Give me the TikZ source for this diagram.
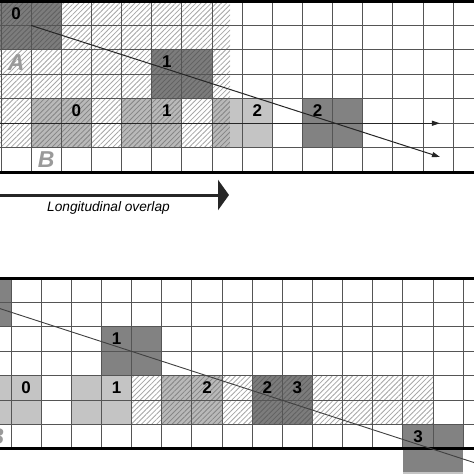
\documentclass[tikz,border=0pt]{standalone}
\usepackage{fontspec}
\setmainfont{Liberation Sans}
\usetikzlibrary{arrows.meta,patterns.meta}
\definecolor{gridc}{HTML}{555555}
\definecolor{lgray}{HTML}{C4C4C4}
\definecolor{mgray}{HTML}{B9B9B9}
\definecolor{dgray}{HTML}{828282}
\definecolor{dhgray}{HTML}{7C7C7C}
\definecolor{lettc}{HTML}{9A9A9A}
\tikzset{
 lighthatch/.style={pattern={Lines[angle=45,distance=3.6pt,line width=0.8pt]},pattern color=black!35},
 medhatch/.style={pattern={Lines[angle=45,distance=3.6pt,line width=0.8pt]},pattern color=black!48},
 darkhatch/.style={pattern={Lines[angle=45,distance=3.6pt,line width=0.8pt]},pattern color=black!62},
 gridline/.style={draw=gridc,line width=1pt},
 frame/.style={draw=black,line width=3pt},
 num/.style={font=\fontsize{17}{17}\selectfont\bfseries,inner sep=0pt},
 panlabel/.style={font=\fontsize{23}{23}\selectfont\bfseries\itshape,text=lettc,inner sep=0pt},
 track/.style={draw=black!85,line width=1pt,-{Triangle[length=8pt,width=5pt]}},
 thinline/.style={draw=black!75,line width=0.9pt},
 bigarrow/.style={draw=black!85,line width=3pt,-{Triangle[length=11pt,width=30pt]}},
}
\begin{document}
\begin{tikzpicture}[x=1pt,y=-1pt]
\useasboundingbox (0,0) rectangle (474,474);
\fill[white] (0,0) rectangle (474,474);
% ---------------- top panel ----------------
\begin{scope}[x=30.15pt,y=-24.45pt,shift={(1pt,-1pt)}]
 \path[lighthatch] (-0.1,0) rectangle (7.6,6);
 \fill[dhgray] (-0.1,0) rectangle (2,2);
 \path[darkhatch] (-0.1,0) rectangle (2,2);
 \fill[dhgray] (5,2) rectangle (7,4);
 \path[darkhatch] (5,2) rectangle (7,4);
 \fill[mgray] (1,4) rectangle (3,6);
 \path[medhatch] (1,4) rectangle (3,6);
 \fill[mgray] (4,4) rectangle (6,6);
 \path[medhatch] (4,4) rectangle (6,6);
 \fill[mgray] (7,4) rectangle (7.6,6);
 \path[medhatch] (7,4) rectangle (7.6,6);
 \fill[lgray] (7.6,4) rectangle (9,6);
 \fill[dgray] (10,4) rectangle (12,6);
 \foreach \c in {0,...,16} \draw[gridline] (\c,0) -- (\c,7);
 \foreach \r in {1,...,6} \draw[gridline] (-0.1,\r) -- (16,\r);
 \draw[frame] (-0.1,0) -- (16,0);
 \draw[frame] (-0.1,7) -- (16,7);
 \coordinate (a0) at (1,1);
 \coordinate (a1) at (14.56,6.38);
 \coordinate (h0) at (-0.1,5);
 \coordinate (h1) at (14.56,5);
 \draw[track] (h0) -- (h1);
 \draw[track] (a0) -- (a1);
 \node[num] (t0) at (0.5,0.5) {0};
 \node[num] (t1) at (5.5,2.5) {1};
 \node[num] (b0) at (2.5,4.5) {0};
 \node[num] (b1) at (5.5,4.5) {1};
 \node[num] (b2) at (8.5,4.5) {2};
 \node[num] (b3) at (10.5,4.5) {2};
 \node[panlabel] (labA) at (0.5,2.5) {A};
 \node[panlabel] (labB) at (1.5,6.5) {B};
\end{scope}
% ---------------- longitudinal overlap ----------------
\coordinate (L0) at (-2,195);
\coordinate (L1) at (229,195);
\draw[bigarrow] (L0) -- (L1);
\node[font=\fontsize{13.7}{14}\selectfont\itshape,anchor=base,inner sep=0pt] (lo) at (108.5,211) {Longitudinal overlap};
% ---------------- bottom panel ----------------
\begin{scope}[x=30.15pt,y=-24.4pt,shift={(11pt,-278pt)}]
 \path[lighthatch] (4,4) rectangle (14,6);
 \fill[mgray] (5,4) rectangle (7,6);
 \path[medhatch] (5,4) rectangle (7,6);
 \fill[dhgray] (8,4) rectangle (10,6);
 \path[darkhatch] (8,4) rectangle (10,6);
 \fill[lgray] (-1,4) rectangle (1,6);
 \fill[lgray] (2,4) rectangle (4,6);
 \fill[dgray] (-1,0) rectangle (0,2);
 \fill[dgray] (3,2) rectangle (5,4);
 \fill[dgray] (13,6) rectangle (15,7.95);
 \fill[lgray] (13,7.95) rectangle (15,8.3);
 \foreach \c in {-1,...,16} \draw[gridline] (\c,0) -- (\c,7);
 \foreach \r in {1,...,6} \draw[gridline] (-1,\r) -- (16,\r);
 \draw[frame] (-1,0) -- (16,0);
 \draw[frame] (-1,7) -- (16,7);
 \coordinate (c0) at (-1,1);
 \coordinate (c1) at (16.22,7.91);
 \draw[thinline] (c0) -- (c1);
 \node[num] (d0) at (0.5,4.5) {0};
 \node[num] (d1) at (3.5,4.5) {1};
 \node[num] (e1) at (3.5,2.5) {1};
 \node[num] (d2) at (6.5,4.5) {2};
 \node[num] (d3) at (8.5,4.5) {2};
 \node[num] (d4) at (9.5,4.5) {3};
 \node[num] (d5) at (13.5,6.5) {3};
 \node[panlabel] (labC) at (-0.5,6.5) {B};
\end{scope}
\end{tikzpicture}
\end{document}
